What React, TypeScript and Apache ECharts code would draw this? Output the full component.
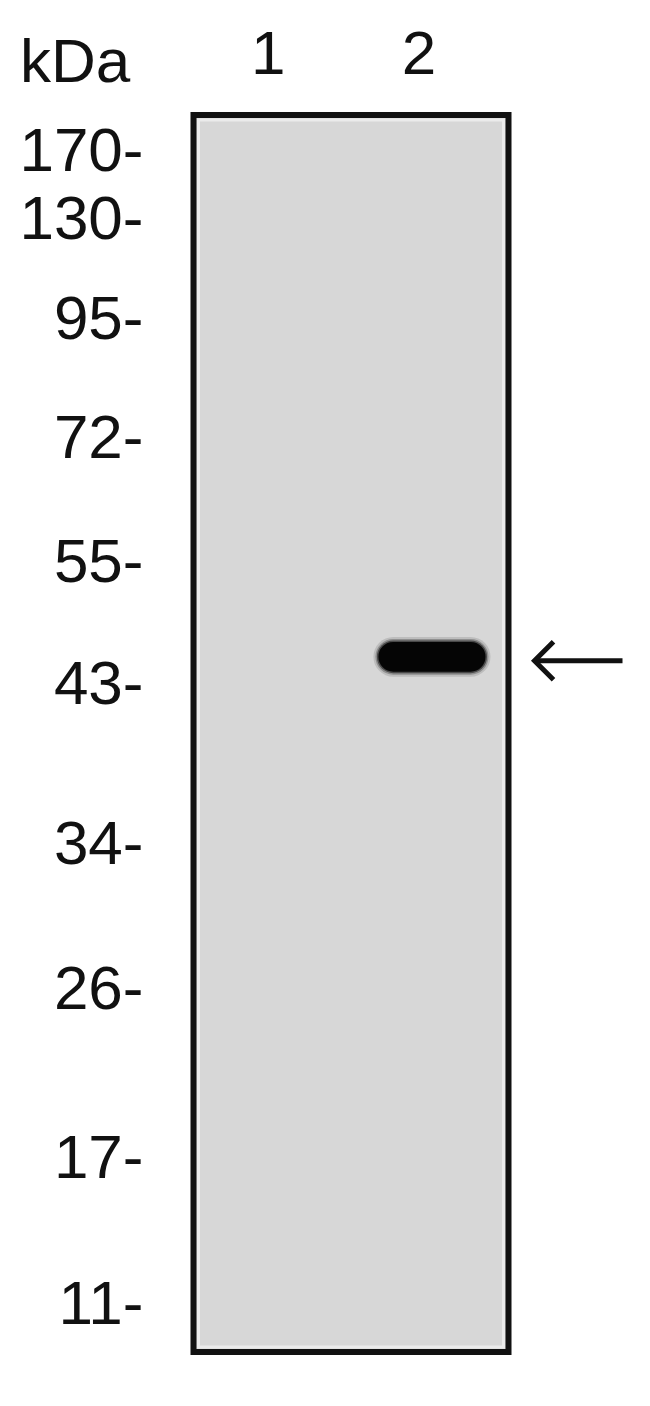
import { useEffect, useRef } from "react";
import * as echarts from "echarts";

// 分子量标记 (kDa) 与其在胶上的迁移距离 (胶顶部 = 0, 底部 = 100)
const markerMW = ["170", "130", "95", "72", "55", "43", "34", "26", "17", "11"];
const markerMigration = [2.75, 8.25, 16.4, 26.0, 36.0, 45.9, 58.8, 70.5, 84.2, 96.0];

// 泳道
const laneLabels = ["1", "2"];
const laneCenters = [23.7, 71.6];

// 条带：泳道 2，约 45 kDa
const bandLane = ["2"];
const bandX = [75.7];
const bandMigration = [43.8];

const FONT = '"Liberation Sans", Arial, sans-serif';
const FONT_SIZE = 62;
const BAND_W = 34; // x 轴单位
const BAND_H = 2.4; // y 轴单位

function findIndex(list: number[], v: number) {
  return list.findIndex((x) => Math.abs(x - v) < 1e-6);
}

export default function App() {
  const ref = useRef<HTMLDivElement>(null);

  useEffect(() => {
    document.body.style.margin = "0";
    if (!ref.current) return;
    const chart = echarts.init(ref.current, null, { renderer: "svg" });

    chart.setOption({
      animation: false,
      backgroundColor: "#ffffff",
      title: {
        text: "kDa",
        left: 15,
        top: 24,
        textStyle: { fontFamily: FONT, fontSize: FONT_SIZE, fontWeight: "normal", color: "#111" },
      },
      grid: {
        left: 193.5,
        right: 141.5,
        top: 115,
        bottom: 54,
        show: true,
        backgroundColor: "#d7d7d7",
        borderColor: "#111",
        borderWidth: 6,
      },
      xAxis: {
        type: "value",
        position: "top",
        min: 0,
        max: 100,
        axisLine: { show: false },
        axisTick: { show: false },
        splitLine: { show: false },
        axisLabel: {
          customValues: laneCenters,
          margin: 32,
          fontFamily: FONT,
          fontSize: FONT_SIZE,
          color: "#111",
          formatter: (v: number) => laneLabels[findIndex(laneCenters, v)] ?? "",
        },
      },
      yAxis: {
        type: "value",
        inverse: true,
        min: 0,
        max: 100,
        axisLine: { show: false },
        axisTick: { show: false },
        splitLine: { show: false },
        axisLabel: {
          customValues: markerMigration,
          margin: 50,
          fontFamily: FONT,
          fontSize: FONT_SIZE,
          color: "#111",
          formatter: (v: number) => {
            const i = findIndex(markerMigration, v);
            return i >= 0 ? markerMW[i] + "-" : "";
          },
        },
      },
      series: [
        {
          // 胶内侧的浅色边
          type: "custom",
          silent: true,
          data: [[0, 0]],
          renderItem: (params: any) => {
            const cs = params.coordSys;
            return {
              type: "rect",
              shape: { x: cs.x + 5, y: cs.y + 5, width: cs.width - 10, height: cs.height - 10 },
              style: { fill: "none", stroke: "#ebebeb", lineWidth: 3 },
            };
          },
        },
        {
          name: "band",
          type: "custom",
          silent: true,
          data: bandX.map((x, i) => [x, bandMigration[i], bandLane[i]]),
          renderItem: (_params: any, api: any) => {
            const c = api.coord([api.value(0), api.value(1)]);
            const w = api.size([BAND_W, 0])[0];
            const h = api.size([0, BAND_H])[1];
            // 由外向内叠加的半透明圆角矩形，模拟条带的模糊边缘
            const layers = [
              { pad: 5, alpha: 0.12 },
              { pad: 3, alpha: 0.25 },
              { pad: 1.5, alpha: 0.5 },
              { pad: 0, alpha: 1 },
            ];
            return {
              type: "group",
              children: layers.map((l) => ({
                type: "rect",
                shape: {
                  x: c[0] - w / 2 - l.pad,
                  y: c[1] - h / 2 - l.pad,
                  width: w + 2 * l.pad,
                  height: h + 2 * l.pad,
                  r: h / 2 + l.pad,
                },
                style: { fill: `rgba(5,5,5,${l.alpha})` },
              })),
            };
          },
        },
        {
          name: "arrow",
          type: "custom",
          silent: true,
          clip: false,
          data: bandX.map((x, i) => [x, bandMigration[i]]),
          renderItem: (params: any, api: any) => {
            const cs = params.coordSys;
            const y = api.coord([api.value(0), api.value(1)])[1] + 4;
            const x0 = cs.x + cs.width + 26;
            const x1 = cs.x + cs.width + 114;
            const stroke = { stroke: "#111", lineWidth: 5, fill: "none", lineJoin: "miter" };
            return {
              type: "group",
              children: [
                { type: "line", shape: { x1: x0 + 3, y1: y, x2: x1, y2: y }, style: stroke },
                {
                  type: "polyline",
                  shape: { points: [[x0 + 19, y - 19], [x0, y], [x0 + 19, y + 19]] },
                  style: stroke,
                },
              ],
            };
          },
        },
      ],
    });

    return () => chart.dispose();
  }, []);

  return <div ref={ref} style={{ width: 650, height: 1406 }} />;
}
